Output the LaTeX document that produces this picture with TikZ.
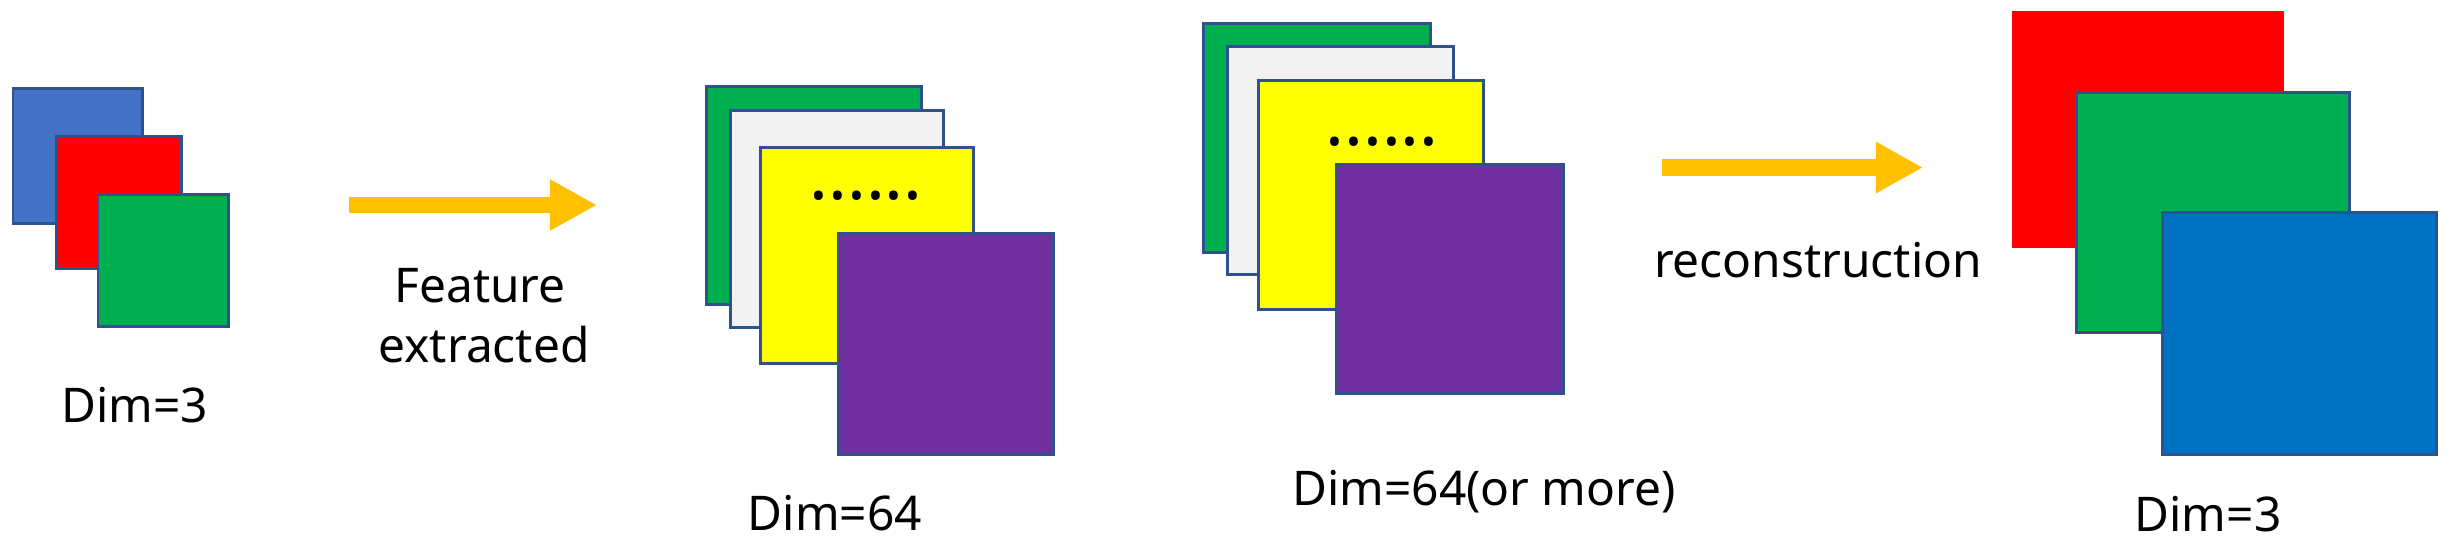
\documentclass[tikz,border=0pt]{standalone}
\usepackage{fontspec}
\setmainfont{Noto Sans}
\usetikzlibrary{arrows.meta}

\definecolor{bordure}{HTML}{2F528F}
\definecolor{bleuA}{HTML}{4472C4}
\definecolor{bleuB}{HTML}{0070C0}
\definecolor{rouge}{HTML}{FF0000}
\definecolor{vert}{HTML}{00B050}
\definecolor{gris}{HTML}{F2F2F2}
\definecolor{jaune}{HTML}{FFFF00}
\definecolor{violet}{HTML}{7030A0}
\definecolor{orange}{HTML}{FFC000}

\begin{document}
\begin{tikzpicture}[x=0.01cm, y=-0.01cm]
			\tikzset{carte/.style={draw=bordure, line width=0.85pt, anchor=north west, inner sep=0pt, outer sep=0pt},
			fleche/.style={draw=orange, line width=0.165cm, -{Triangle[length=0.47cm, width=0.48cm]}},
			texte/.style={anchor=base, inner sep=0pt, font=\fontsize{13.6}{16}\selectfont},
			points/.style={anchor=base, inner sep=0pt, font=\fontsize{20}{20}\selectfont\bfseries}};

			\useasboundingbox (0,0) rectangle (2448,547);

			% entree, 3 canaux
			\foreach \name/\x/\y/\w/\h/\col in {e1/13/88/1.29/1.35/bleuA, e2/56/136/1.25/1.32/rouge, e3/98/194/1.30/1.32/vert}{
				\node[carte, fill=\col, minimum width=\w cm, minimum height=\h cm] (\name) at (\x, \y) {};
			}
			\node[texte] (dim-e) at (135, 422) {Dim=3};

			% features, 64 canaux
			\foreach \name/\x/\y/\w/\h/\col in {f1/706/86/2.15/2.18/vert, f2/730/110/2.13/2.17/gris, f3/760/147/2.13/2.16/jaune, f4/838/233/2.15/2.21/violet}{
				\node[carte, fill=\col, minimum width=\w cm, minimum height=\h cm] (\name) at (\x, \y) {};
			}
			\node[points] (pts-f) at (866, 199) {......};
			\node[texte] (dim-f) at (835, 530) {Dim=64};

			% features, 64 canaux ou plus
			\foreach \name/\x/\y/\w/\h/\col in {g1/1203/23/2.27/2.29/vert, g2/1227/46/2.26/2.28/gris, g3/1258/80/2.25/2.29/jaune, g4/1336/164/2.27/2.29/violet}{
				\node[carte, fill=\col, minimum width=\w cm, minimum height=\h cm] (\name) at (\x, \y) {};
			}
			\node[points] (pts-g) at (1382, 145) {......};
			\node[texte] (dim-g) at (1484, 505) {Dim=64(or more)};

			% sortie, 3 canaux
			\node[carte, draw=none, fill=rouge, minimum width=2.72cm, minimum height=2.37cm] (s1) at (2012, 11) {};
			\node[carte, fill=vert, minimum width=2.73cm, minimum height=2.40cm] (s2) at (2076, 92) {};
			\node[carte, fill=bleuB, minimum width=2.74cm, minimum height=2.42cm] (s3) at (2162, 212) {};
			\node[texte] (dim-s) at (2208, 531) {Dim=3};

			% fleches
			\coordinate (a1) at (349, 205);
			\coordinate (b1) at (597, 205);
			\coordinate (a2) at (1662, 167.5);
			\coordinate (b2) at (1923, 167.5);
			\draw[fleche] (a1) -- (b1);
			\draw[fleche] (a2) -- (b2);
			\node[texte] (lab-1) at (480, 302) {Feature};
			\node[texte] (lab-2) at (484, 362) {extracted};
			\node[texte] (lab-3) at (1818, 277) {reconstruction};

		\end{tikzpicture}
\end{document}
